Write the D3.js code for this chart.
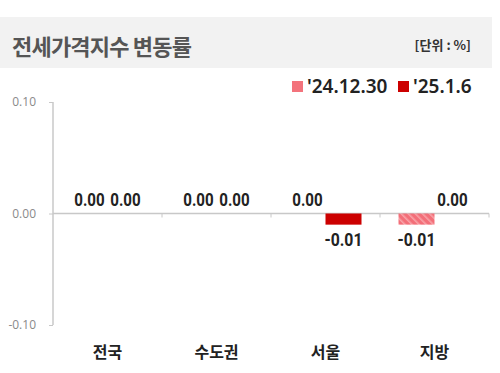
<!DOCTYPE html>
<html>
<head>
<meta charset="utf-8">
<script src="https://cdn.jsdelivr.net/npm/d3@7"></script>
<style>
  body { margin: 0; background: #fff; }
  svg { display: block; }
</style>
</head>
<body>
<svg id="chart" width="500" height="373"></svg>
<script>
var categories = ["전국", "수도권", "서울", "지방"];
var seriesNames = ["'24.12.30", "'25.1.6"];
var prevValues = [0.00, 0.00, 0.00, -0.01];
var currValues = [0.00, 0.00, -0.01, 0.00];
var yTicks = [-0.10, 0.00, 0.10];

var svg = d3.select("#chart"),
    width = +svg.attr("width"),
    height = +svg.attr("height");

var colors = ["url(#hatch)", "#cc0000"];
var fmt = function (v) { return d3.format(".2f")(v).replace("−", "-"); };

// hatch pattern for the first series
var defs = svg.append("defs");
var pat = defs.append("pattern")
    .attr("id", "hatch")
    .attr("patternUnits", "userSpaceOnUse")
    .attr("width", 5)
    .attr("height", 5)
    .attr("patternTransform", "rotate(-45)");
pat.append("rect").attr("width", 5).attr("height", 5).attr("fill", "#f36f79");
pat.append("rect").attr("width", 1.6).attr("height", 5).attr("fill", "#f8a3a8");

// title band
svg.append("rect")
    .attr("x", 0).attr("y", 17)
    .attr("width", 492).attr("height", 51)
    .attr("fill", "#f2f2f2");

svg.append("text")
    .attr("x", 12).attr("y", 55)
    .attr("font-family", "'Noto Sans CJK KR', sans-serif")
    .attr("font-weight", 700)
    .attr("font-size", 22)
    .attr("letter-spacing", -0.8)
    .attr("fill", "#555")
    .text("전세가격지수 변동률");

svg.append("text")
    .attr("x", 471).attr("y", 50)
    .attr("text-anchor", "end")
    .attr("font-family", "'Noto Sans CJK KR', sans-serif")
    .attr("font-weight", 700)
    .attr("font-size", 13)
    .attr("fill", "#333")
    .text("[단위 : %]");

// legend
var legendX = [292, 398];
seriesNames.forEach(function (name, i) {
    svg.append("rect")
        .attr("x", legendX[i]).attr("y", 81)
        .attr("width", 11).attr("height", 11)
        .attr("fill", i === 0 ? "#f3737c" : "#cc0000");
    svg.append("text")
        .attr("x", legendX[i] + 15).attr("y", 93)
        .attr("font-family", "'Noto Sans', sans-serif")
        .attr("font-weight", 600)
        .attr("font-size", 19)
        .attr("fill", "#222")
        .text(name);
});

// scales
var y = d3.scaleLinear().domain([-0.1, 0.1]).range([325, 102]);
var x0 = d3.scaleBand().domain(categories).range([53, 489]);
var barW = 36;
var x1 = d3.scaleBand().domain(seriesNames).range([0, barW * 2]);

// y axis
var yAxis = d3.axisLeft(y).tickValues(yTicks).tickSize(4).tickFormat(fmt);
var gy = svg.append("g").attr("transform", "translate(53,0)").call(yAxis);
gy.select(".domain").attr("stroke", "#c8c8c8").attr("stroke-width", 1.5).attr("d", "M0,102V325");
gy.selectAll(".tick line").attr("stroke", "#c8c8c8");
gy.selectAll(".tick text")
    .attr("x", -17)
    .attr("font-family", "'Open Sans', sans-serif")
    .attr("font-size", 12)
    .attr("fill", "#8a8a8a");

// zero line with category ticks
var xAxis = d3.axisBottom(x0).tickSize(0).tickFormat("");
var gx = svg.append("g").attr("transform", "translate(0," + y(0) + ")").call(xAxis);
gx.select(".domain").attr("stroke", "#c8c8c8").attr("stroke-width", 1.5).attr("d", "M53,0H489");
var bounds = categories.map(function (c) { return x0(c) + x0.bandwidth(); });
gx.selectAll(".bound").data(bounds).enter().append("line")
    .attr("x1", function (d) { return d; }).attr("x2", function (d) { return d; })
    .attr("y1", 0).attr("y2", 4)
    .attr("stroke", "#c8c8c8");

// bars and labels
var rows = categories.map(function (c, i) {
    return { cat: c, vals: [prevValues[i], currValues[i]] };
});

var groups = svg.selectAll(".grp").data(rows).enter().append("g")
    .attr("transform", function (d) {
        return "translate(" + (x0(d.cat) + x0.bandwidth() / 2 - barW) + ",0)";
    });

groups.selectAll("rect").data(function (d) {
    return d.vals.map(function (v, j) { return { v: v, s: seriesNames[j], j: j }; });
}).enter().append("rect")
    .attr("x", function (d) { return x1(d.s); })
    .attr("width", x1.bandwidth())
    .attr("y", function (d) { return Math.min(y(d.v), y(0)); })
    .attr("height", function (d) { return Math.abs(y(d.v) - y(0)); })
    .attr("fill", function (d) { return colors[d.j]; });

groups.selectAll("text").data(function (d) {
    return d.vals.map(function (v, j) { return { v: v, s: seriesNames[j] }; });
}).enter().append("text")
    .attr("x", function (d) { return x1(d.s) + x1.bandwidth() / 2; })
    .attr("y", function (d) { return d.v < 0 ? y(d.v) + 21 : y(d.v) - 8; })
    .attr("text-anchor", "middle")
    .attr("font-family", "Roboto, sans-serif")
    .attr("font-weight", 700)
    .attr("font-size", 19)
    .attr("fill", "#222")
    .attr("textLength", function (d) { return fmt(d.v).length * 7.6; })
    .attr("lengthAdjust", "spacingAndGlyphs")
    .text(function (d) { return fmt(d.v); });

// category labels
svg.selectAll(".cat").data(categories).enter().append("text")
    .attr("x", function (d) { return x0(d) + x0.bandwidth() / 2; })
    .attr("y", 358)
    .attr("text-anchor", "middle")
    .attr("font-family", "'Noto Sans CJK KR', sans-serif")
    .attr("font-weight", 700)
    .attr("font-size", 16)
    .attr("fill", "#222")
    .text(function (d) { return d; });
</script>
</body>
</html>
